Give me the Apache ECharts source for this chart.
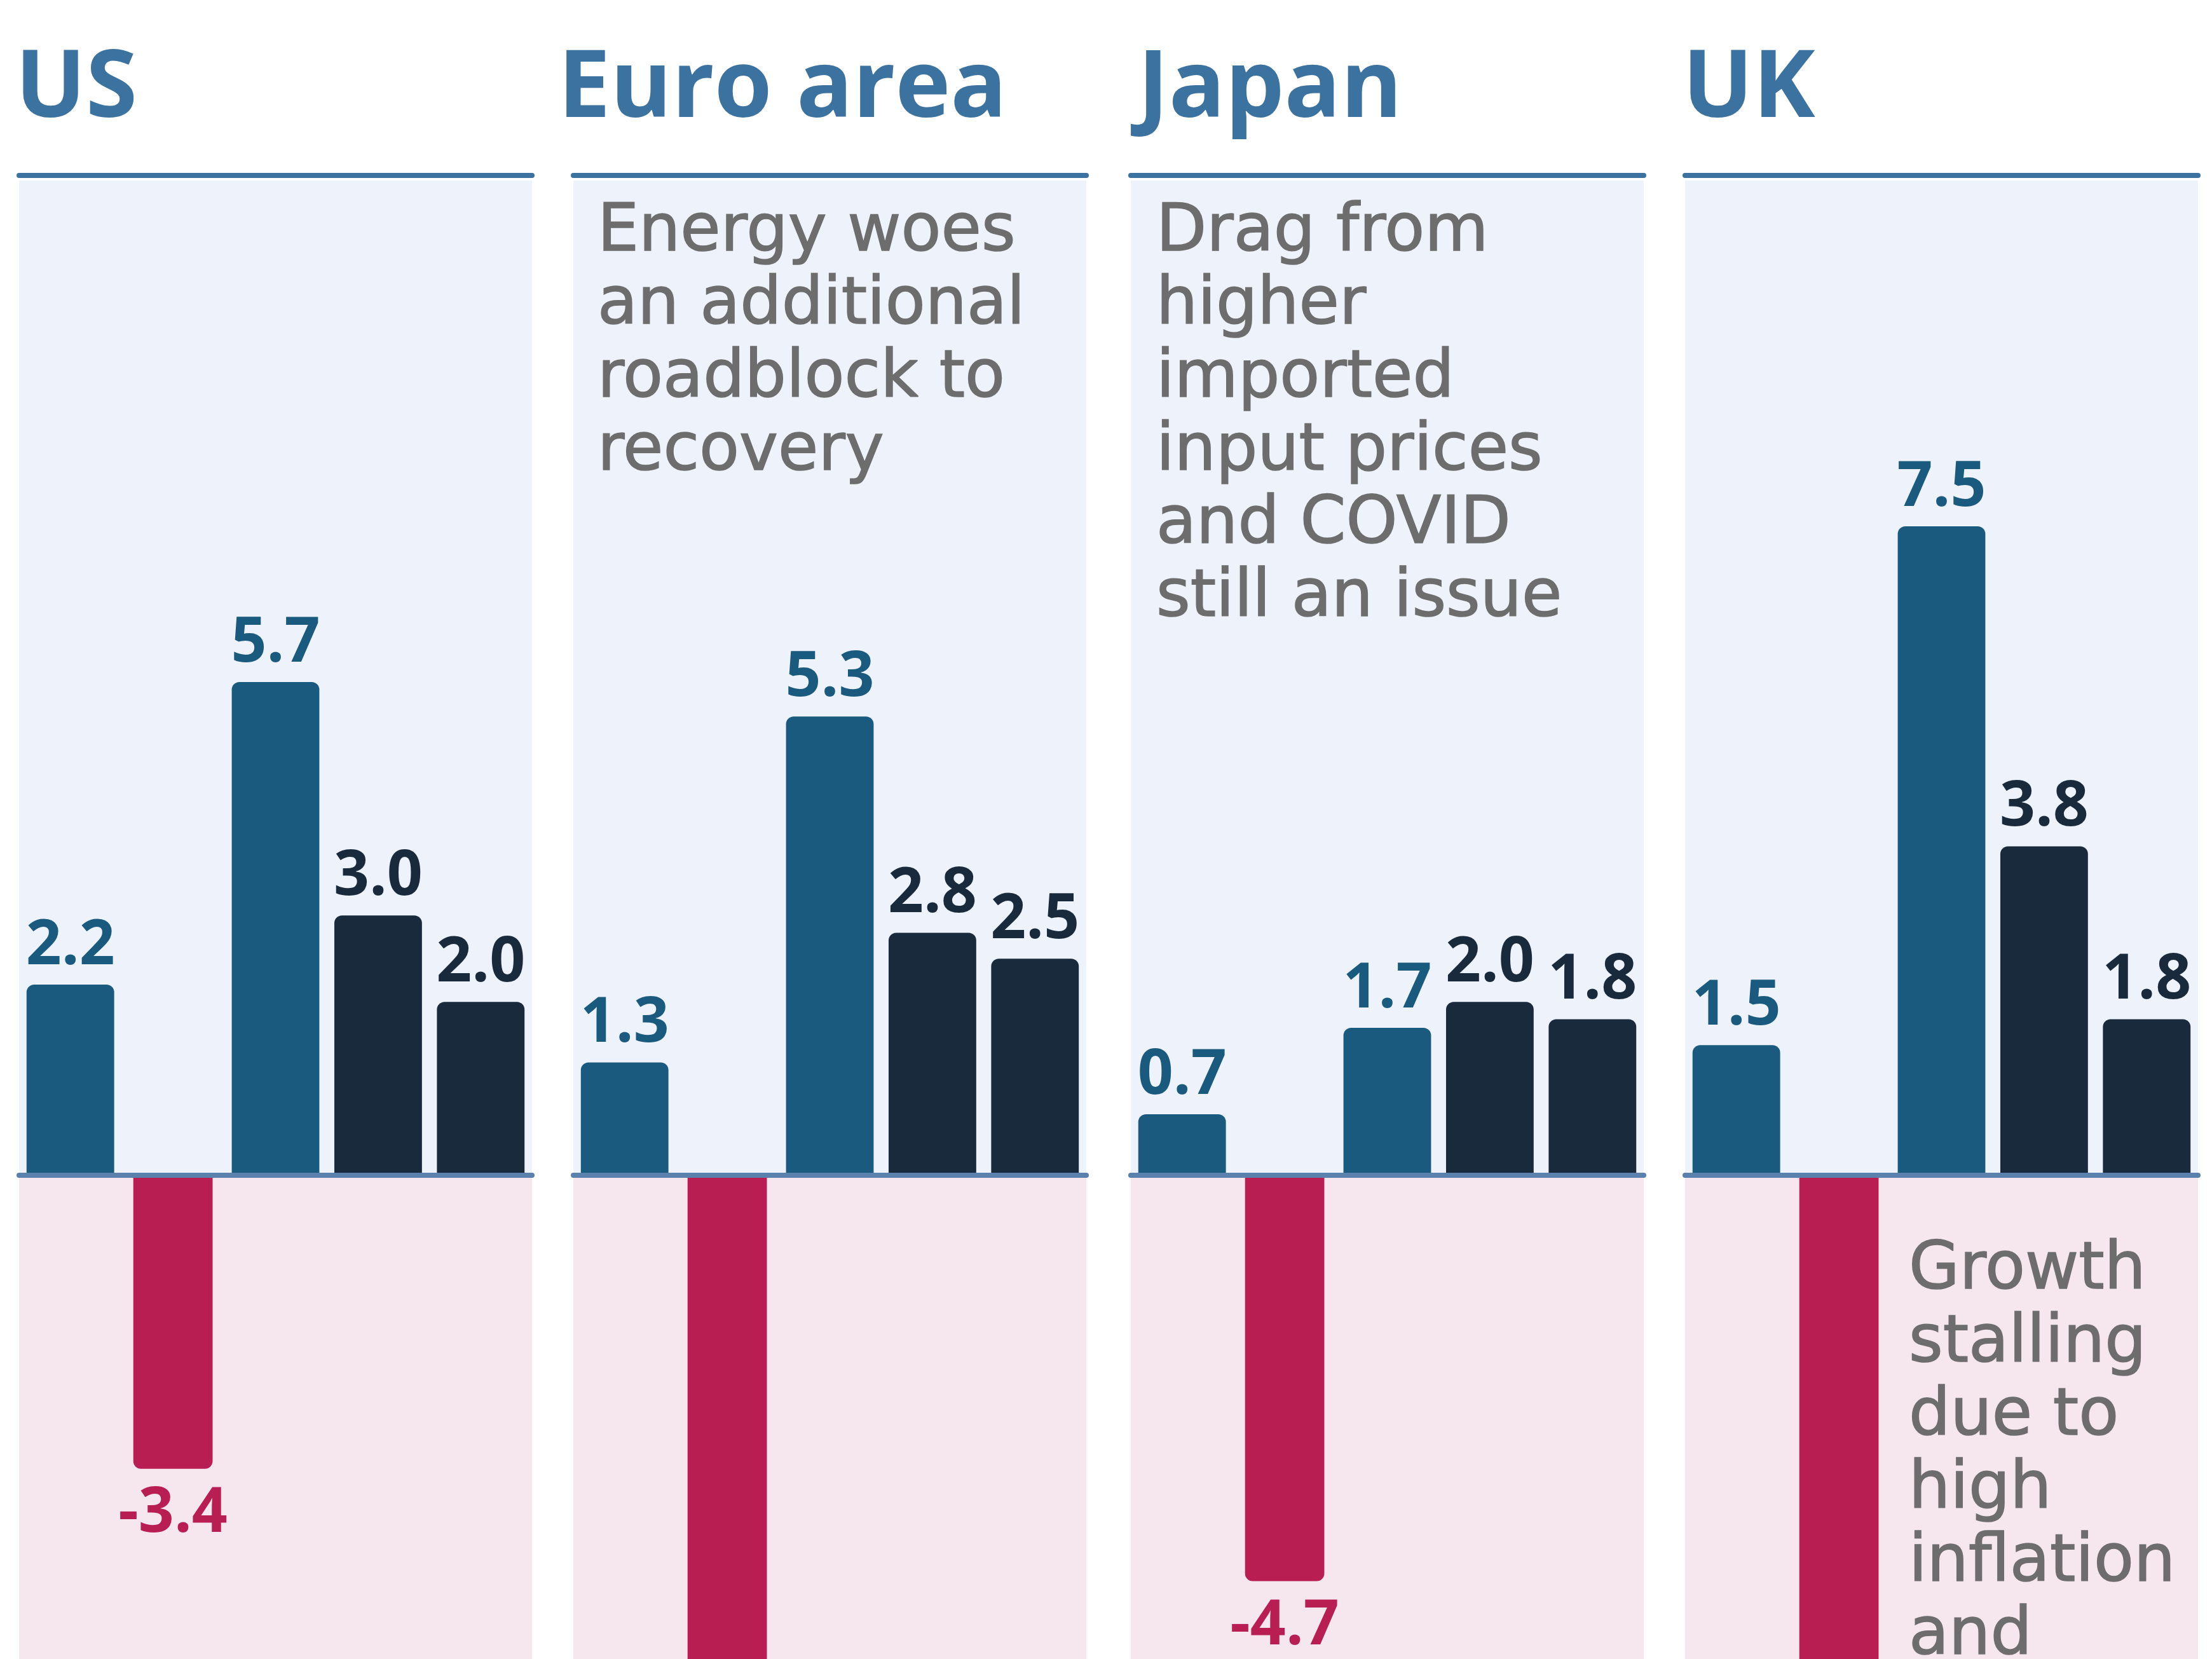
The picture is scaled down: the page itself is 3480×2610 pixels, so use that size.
<!DOCTYPE html>
<html>
<head>
<meta charset="utf-8">
<title>GDP growth: US, Euro area, Japan, UK</title>
<script src="https://cdn.jsdelivr.net/npm/echarts@6/dist/echarts.min.js"></script>
<style>
  html, body { margin: 0; padding: 0; background: #fff; }
  #chart { width: 3480px; height: 2610px; }
</style>
</head>
<body>
<div id="chart"></div>
<script>
// values; euro area and UK 2020 run off the bottom edge
const years = ['2019', '2020', '2021', '2022', '2023']
const countries = ['US', 'Euro area', 'Japan', 'UK']
const usGrowth = [2.2, -3.4, 5.7, 3.0, 2.0]
const euroGrowth = [1.3, -6.1, 5.3, 2.8, 2.5]
const japanGrowth = [0.7, -4.7, 1.7, 2.0, 1.8]
const ukGrowth = [1.5, -9.3, 7.5, 3.8, 1.8]

const euroNote = 'Energy woes\nan additional\nroadblock to\nrecovery'
const japanNote = 'Drag from\nhigher\nimported\ninput prices\nand COVID\nstill an issue'
const ukNote = 'Growth\nstalling\ndue to\nhigh\ninflation\nand'

// layout: the picture is a crop, the axis is cut at the bottom edge
const panelLeft = [30, 902, 1779, 2651]
const panelWidth = 807
const panelTop = 284
const yMax = 11.5
const yMin = -5.6

const BLUE = '#1b5a7f', RED = '#b81e52', NAVY = '#182a3b'
const barColors = [BLUE, RED, BLUE, NAVY, NAVY]

const labelFont = { fontFamily: 'Open Sans', fontWeight: 'bold', fontSize: 98 }
const noteStyle = {
  fontFamily: 'DejaVu Sans', fontWeight: 'normal', fontSize: 103,
  lineHeight: 115, color: '#6d6d6d',
  textBorderColor: '#6d6d6d', textBorderWidth: 1.6
}

const growth = [usGrowth, euroGrowth, japanGrowth, ukGrowth]
const grid = [], xAxis = [], yAxis = [], series = []

growth.forEach((vals, i) => {
  grid.push({
    left: panelLeft[i], width: panelWidth, top: panelTop, bottom: 0,
    show: true, backgroundColor: '#eef3fb', borderWidth: 0
  })

  // zero line (drawn over the bars)
  xAxis.push({
    gridIndex: i, type: 'category', data: years, position: 'bottom', z: 5,
    axisLine: { onZero: true, lineStyle: { color: '#5a80ad', width: 8 } },
    axisTick: { show: false }, axisLabel: { show: false }
  })
  // header rule above each panel; also the base axis for the negative bars
  xAxis.push({
    gridIndex: i, type: 'category', data: years, position: 'top', offset: 8,
    axisLine: { onZero: false, lineStyle: { color: '#3c72a0', width: 8 } },
    axisTick: { show: false }, axisLabel: { show: false }
  })
  yAxis.push({
    gridIndex: i, type: 'value', min: yMin, max: yMax, show: false
  })

  series.push({
    type: 'bar', xAxisIndex: 2 * i, yAxisIndex: i, barWidth: '85.4%',
    data: vals.map((v, k) => v >= 0 ? {
      value: v,
      itemStyle: { color: barColors[k], borderRadius: [12, 12, 0, 0] },
      label: { color: barColors[k] }
    } : '-'),
    label: {
      show: true, position: 'top', distance: 11, ...labelFont,
      formatter: p => Number(p.value).toFixed(1)
    },
    // pink half below zero
    markArea: {
      silent: true,
      itemStyle: { color: '#f6e7ee' },
      data: [[{ yAxis: 0 }, { yAxis: yMin }]]
    }
  })
  series.push({
    type: 'bar', xAxisIndex: 2 * i + 1, yAxisIndex: i, barWidth: '77.3%',
    data: vals.map(v => v < 0 ? {
      value: v,
      // bars cut by the bottom edge keep square ends
      itemStyle: { borderRadius: v < yMin ? 0 : [0, 0, 12, 12] }
    } : '-'),
    itemStyle: { color: RED },
    label: {
      show: true, position: 'bottom', distance: 22, color: RED, ...labelFont,
      formatter: p => Number(p.value).toFixed(1)
    }
  })
})

const titleLeft = [24, 878, 1790, 2647]
const titles = countries.map((name, i) => ({
  text: name, left: titleLeft[i], top: 67, padding: 0,
  textStyle: { fontFamily: 'Open Sans', fontWeight: 'bold', fontSize: 147, lineHeight: 150, color: '#3c72a0' }
}))
titles.push({ text: euroNote, left: 940, top: 310, padding: 0, textStyle: noteStyle })
titles.push({ text: japanNote, left: 1819, top: 310, padding: 0, textStyle: noteStyle })
titles.push({ text: ukNote, left: 3003, top: 1943, padding: 0, textStyle: noteStyle })

const chart = echarts.init(document.getElementById('chart'), null, { renderer: 'canvas' })
chart.setOption({
  animation: false,
  backgroundColor: '#ffffff',
  title: titles,
  grid,
  xAxis,
  yAxis,
  series
})
</script>
</body>
</html>
